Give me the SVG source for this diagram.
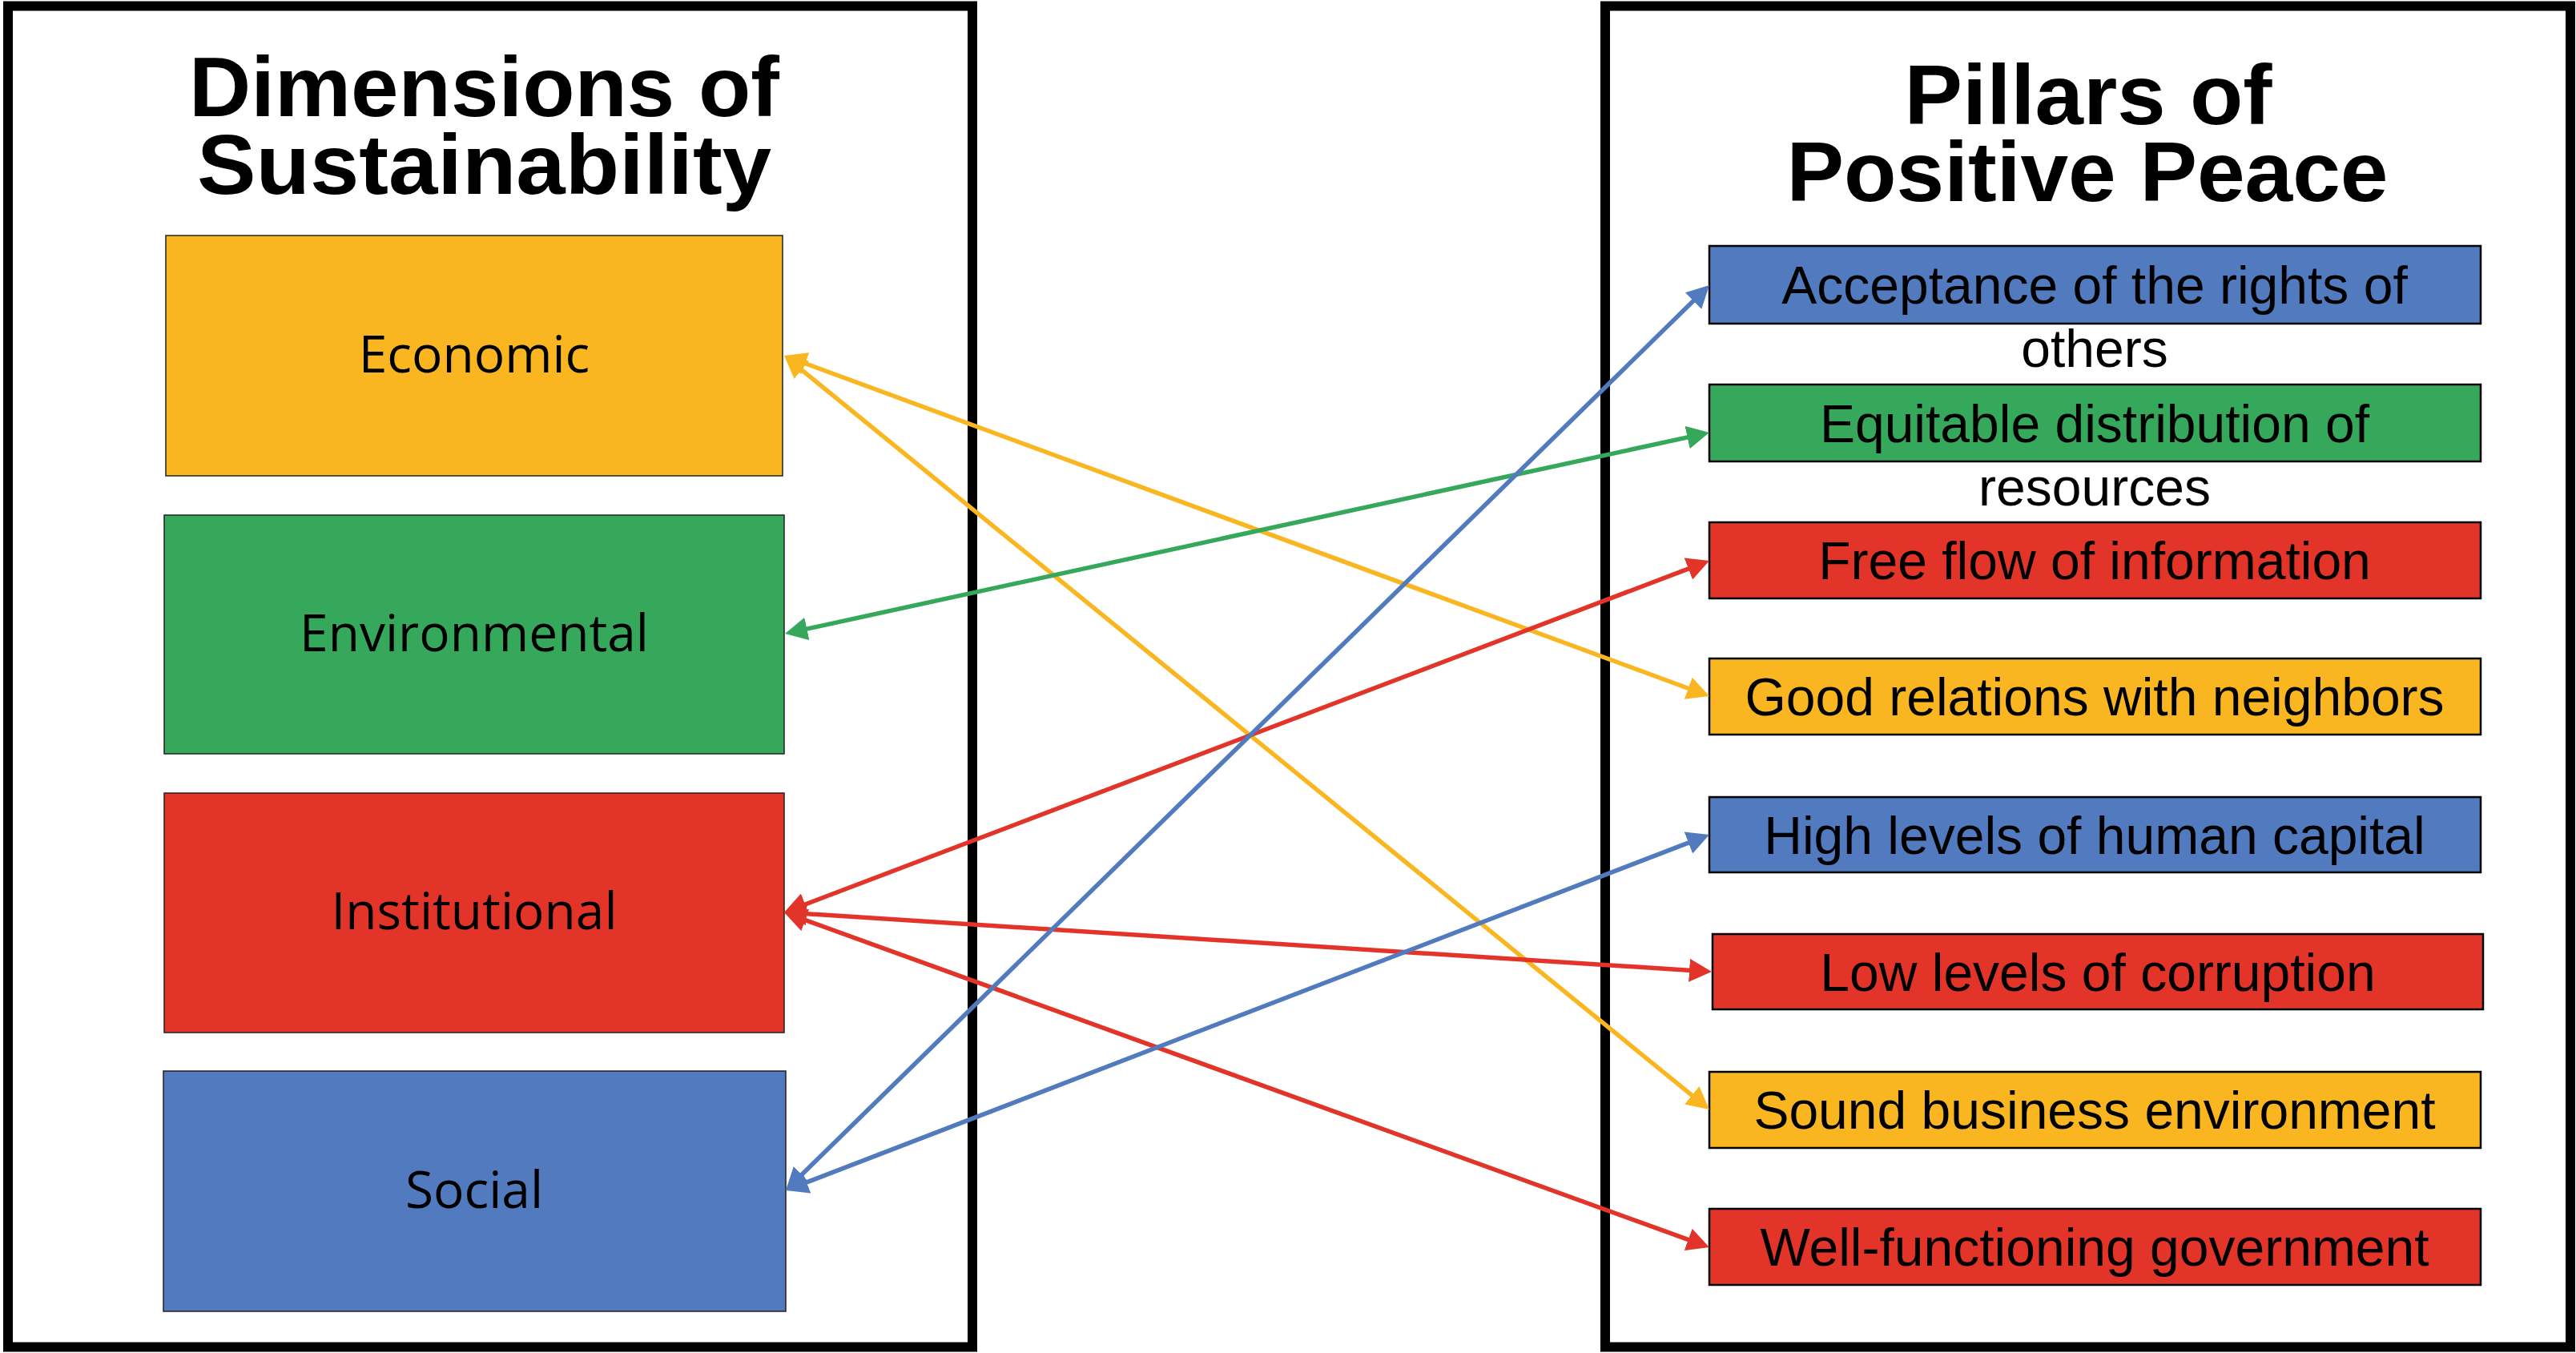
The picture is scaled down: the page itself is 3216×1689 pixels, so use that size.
<svg xmlns="http://www.w3.org/2000/svg" width="3216" height="1689" viewBox="0 0 3216 1689">
<style>
.frame{fill:#fff;stroke:#000;stroke-width:12}
.title{font-family:"Liberation Sans",Arial,sans-serif;font-weight:bold;font-size:105px;fill:#000;text-anchor:middle}
.lbox{stroke:#222;stroke-width:1.5}
.rbox{stroke:#000;stroke-width:2.5}
.ltxt{font-family:"Open Sans","Noto Sans",sans-serif;font-size:64px;fill:#000;text-anchor:middle}
.rtxt{font-family:"Liberation Sans",Arial,sans-serif;font-size:66px;fill:#000;text-anchor:middle}
.y{fill:#F9B621}.g{fill:#35A85B}.r{fill:#E23428}.b{fill:#527ABE}
.cy{stroke:#F9B621}.cg{stroke:#35A85B}.cr{stroke:#E23428}.cb{stroke:#527ABE}
.conn line{stroke-width:5.5;fill:none}
</style>
<defs>
<marker id="ay" markerUnits="userSpaceOnUse" markerWidth="28" markerHeight="29" viewBox="0 0 28 29" refX="18" refY="14.5" orient="auto-start-reverse"><path d="M0,0 L28,14.5 L0,29 z" fill="#F9B621"/></marker>
<marker id="ag" markerUnits="userSpaceOnUse" markerWidth="28" markerHeight="29" viewBox="0 0 28 29" refX="18" refY="14.5" orient="auto-start-reverse"><path d="M0,0 L28,14.5 L0,29 z" fill="#35A85B"/></marker>
<marker id="ar" markerUnits="userSpaceOnUse" markerWidth="28" markerHeight="29" viewBox="0 0 28 29" refX="18" refY="14.5" orient="auto-start-reverse"><path d="M0,0 L28,14.5 L0,29 z" fill="#E23428"/></marker>
<marker id="ab" markerUnits="userSpaceOnUse" markerWidth="28" markerHeight="29" viewBox="0 0 28 29" refX="18" refY="14.5" orient="auto-start-reverse"><path d="M0,0 L28,14.5 L0,29 z" fill="#527ABE"/></marker>
</defs>
<rect width="3216" height="1689" fill="#fff"/>

<g id="left-panel">
<rect class="frame" x="10" y="7.5" width="1204" height="1674"/>
<text class="title"><tspan x="604.5" y="145" textLength="737" lengthAdjust="spacingAndGlyphs">Dimensions of</tspan><tspan x="604.5" y="242" textLength="717" lengthAdjust="spacingAndGlyphs">Sustainability</tspan></text>
</g>
<g id="right-panel">
<rect class="frame" x="2004" y="7.5" width="1205" height="1674"/>
<text class="title"><tspan x="2607" y="155" textLength="459" lengthAdjust="spacingAndGlyphs">Pillars of</tspan><tspan x="2606" y="251" textLength="751" lengthAdjust="spacingAndGlyphs">Positive Peace</tspan></text>
</g>

<g id="economic"><rect class="lbox y" x="207" y="294" width="770" height="300"/><text class="ltxt" x="592" y="465">Economic</text></g>
<g id="environmental"><rect class="lbox g" x="205" y="643" width="774" height="298"/><text class="ltxt" x="592" y="813">Environmental</text></g>
<g id="institutional"><rect class="lbox r" x="205" y="990" width="774" height="299"/><text class="ltxt" x="592" y="1160">Institutional</text></g>
<g id="social"><rect class="lbox b" x="204" y="1337" width="777" height="300"/><text class="ltxt" x="592" y="1508">Social</text></g>

<g id="acceptance"><rect class="rbox b" x="2134" y="307" width="963" height="97"/><text class="rtxt" x="2615" y="379">Acceptance of the rights of</text><text class="rtxt" x="2615" y="458">others</text></g>
<g id="equitable"><rect class="rbox g" x="2134" y="480" width="963" height="96"/><text class="rtxt" x="2615" y="552">Equitable distribution of</text><text class="rtxt" x="2615" y="631">resources</text></g>
<g id="freeflow"><rect class="rbox r" x="2134" y="652" width="963" height="95"/><text class="rtxt" x="2615" y="723">Free flow of information</text></g>
<g id="goodrelations"><rect class="rbox y" x="2134" y="822" width="963" height="95"/><text class="rtxt" x="2615" y="893">Good relations with neighbors</text></g>
<g id="humancapital"><rect class="rbox b" x="2134" y="995" width="963" height="94"/><text class="rtxt" x="2615" y="1066">High levels of human capital</text></g>
<g id="corruption"><rect class="rbox r" x="2138" y="1166" width="962" height="94"/><text class="rtxt" x="2619" y="1237">Low levels of corruption</text></g>
<g id="business"><rect class="rbox y" x="2134" y="1338" width="963" height="95"/><text class="rtxt" x="2615" y="1409">Sound business environment</text></g>
<g id="government"><rect class="rbox r" x="2134" y="1509" width="963" height="95"/><text class="rtxt" x="2615" y="1580">Well-functioning government</text></g>

<g id="connectors" class="conn">
<line class="cy" x1="988.4" y1="447.5" x2="2124.6" y2="865.5" marker-start="url(#ay)" marker-end="url(#ay)"/>
<line class="cy" x1="986.8" y1="450.3" x2="2126.2" y2="1378.7" marker-start="url(#ay)" marker-end="url(#ay)"/>
<line class="cg" x1="989.8" y1="788.9" x2="2124.2" y2="542.1" marker-start="url(#ag)" marker-end="url(#ag)"/>
<line class="cr" x1="988.3" y1="1135.4" x2="2124.7" y2="703.6" marker-start="url(#ar)" marker-end="url(#ar)"/>
<line class="cr" x1="989.0" y1="1139.6" x2="2127.0" y2="1212.4" marker-start="url(#ar)" marker-end="url(#ar)"/>
<line class="cr" x1="988.4" y1="1142.4" x2="2124.6" y2="1553.6" marker-start="url(#ar)" marker-end="url(#ar)"/>
<line class="cb" x1="988.1" y1="1479.0" x2="2126.9" y2="363.0" marker-start="url(#ab)" marker-end="url(#ab)"/>
<line class="cb" x1="990.3" y1="1482.4" x2="2124.7" y2="1045.6" marker-start="url(#ab)" marker-end="url(#ab)"/>
</g>
</svg>
